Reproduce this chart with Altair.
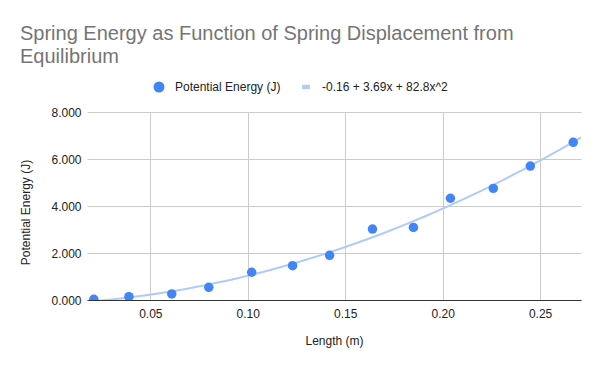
import altair as alt
import pandas as pd

# ---- data ----
lengths = [0.021, 0.039, 0.061, 0.080, 0.102, 0.123, 0.142, 0.164, 0.185, 0.204, 0.226, 0.245, 0.267]
energies = [0.03, 0.14, 0.26, 0.54, 1.18, 1.46, 1.90, 3.02, 3.09, 4.33, 4.75, 5.70, 6.71]

series_points = "Potential Energy (J)"
series_trend = "-0.16 + 3.69x + 82.8x^2"
x_ticks = [0.05, 0.10, 0.15, 0.20, 0.25]
y_ticks = [0, 2, 4, 6, 8]
x_domain = [0.0175, 0.271]
y_domain = [0, 8]

df = pd.DataFrame({"length": lengths, "energy": energies})

FONT = "Liberation Sans"

legend = alt.Legend(
    title=None,
    orient="none",
    legendX=66,
    legendY=-31,
    direction="horizontal",
    symbolSize=121,
    symbolStrokeWidth=0,
    labelFontSize=12,
    labelFont=FONT,
    labelColor="#222222",
    labelOffset=10,
    columnPadding=19,
    padding=0,
)

color = alt.Color(
    "series:N",
    scale=alt.Scale(domain=[series_points, series_trend], range=["#4285f4", "#aecbfa"]),
    legend=legend,
    title=None,
)
shape = alt.Shape(
    "series:N",
    scale=alt.Scale(
        domain=[series_points, series_trend],
        range=["circle", "M-0.7,-0.4H0.7V0.4H-0.7Z"],
    ),
    legend=legend,
    title=None,
)

x_enc = alt.X(
    "length:Q",
    scale=alt.Scale(domain=x_domain, nice=False, zero=False),
    axis=alt.Axis(
        values=x_ticks,
        format=".2f",
        title="Length (m)",
        ticks=False,
        labelPadding=8,
        titlePadding=16,
        labelFontSize=12,
        titleFontSize=12,
        titleFontWeight="normal",
        labelColor="#222222",
        titleColor="#222222",
        domainColor="#333333",
        gridColor="#cccccc",
    ),
)
y_enc = alt.Y(
    "energy:Q",
    scale=alt.Scale(domain=y_domain, nice=False),
    axis=alt.Axis(
        values=y_ticks,
        format=".3f",
        title="Potential Energy (J)",
        ticks=False,
        domain=False,
        labelPadding=6,
        titlePadding=18,
        titleY=100,
        labelFontSize=12,
        titleFontSize=12,
        titleFontWeight="normal",
        labelColor="#222222",
        titleColor="#222222",
        gridColor="#cccccc",
    ),
)

trend = (
    alt.Chart(df)
    .transform_regression("length", "energy", method="poly", order=2, extent=x_domain)
    .transform_calculate(series=f"'{series_trend}'")
    .mark_line(clip=True, strokeWidth=2)
    .encode(x=x_enc, y=y_enc, color=color)
)

points = (
    alt.Chart(df)
    .transform_calculate(series=f"'{series_points}'")
    .mark_point(filled=True, size=90, opacity=1, clip=True)
    .encode(x=x_enc, y=y_enc, color=color, shape=shape)
)

chart = (
    alt.layer(trend, points)
    .properties(
        width=494,
        height=188,
        autosize=alt.AutoSizeParams(type="none"),
        padding={"left": 79, "top": 104, "right": 10, "bottom": 59},
        title=alt.TitleParams(
            text=["Spring Energy as Function of Spring Displacement from", "Equilibrium"],
            anchor="start",
            frame="group",
            fontSize=20,
            font=FONT,
            fontWeight="normal",
            color="#757575",
            lineHeight=23.5,
            dx=-67,
            dy=-10,
        ),
    )
    .configure(font=FONT)
    .configure_view(stroke=None)
)

chart.save("out.html", embed_options={"renderer": "svg", "actions": False})
